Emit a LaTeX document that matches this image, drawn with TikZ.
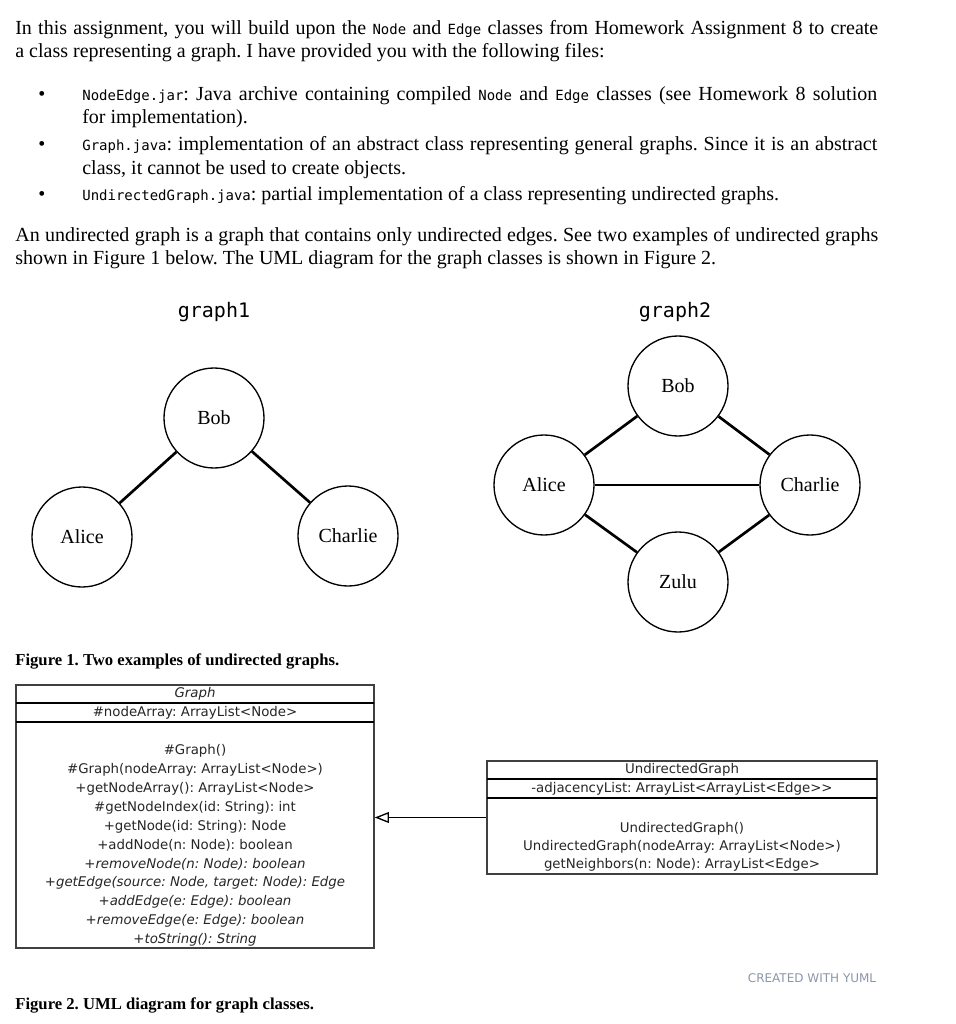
\documentclass[tikz,border=0pt]{standalone}
\usepackage{fontspec}
\setmainfont{Liberation Serif}
\newfontfamily\codefont[Scale=0.7]{DejaVu Sans Mono}
\newfontfamily\labelfont{DejaVu Sans Mono}
\newfontfamily\umlfont{DejaVu Sans}
\usepackage{tikz}
\usetikzlibrary{arrows.meta}
\tikzset{>=latex}
\definecolor{yumlgray}{HTML}{8A96A8}
\newcommand{\jcode}[1]{{\codefont #1}}
\frenchspacing

\begin{document}
\begin{tikzpicture}[x=0.6pt,y=-0.6pt,
    line/.style={anchor=west,inner sep=0pt,font=\fontsize{12}{14}\selectfont},
    caption/.style={anchor=west,inner sep=0pt,font=\bfseries\fontsize{10}{12}\selectfont},
    vertex/.style={circle,draw,line width=0.8pt,minimum size=60pt,inner sep=0pt,font=\fontsize{12}{14}\selectfont},
    link/.style={line width=1.6pt},
    classbox/.style={draw=black!75,line width=0.9pt,inner sep=0pt},
    divider/.style={line width=1.2pt},
    uml/.style={inner sep=0pt,font=\umlfont\fontsize{8}{10}\selectfont,text=black!85},
    inherits/.style={-{Triangle[open,length=8.5pt,width=6.5pt]},line width=0.8pt}]
    \useasboundingbox (0,0) rectangle (955,1024);
    % introduction
    \node[line] (p1a) at (15,30) {\makebox[517.8pt][s]{In this assignment, you will build upon the \jcode{Node} and \jcode{Edge} classes from Homework Assignment 8 to create}};
    \node[line] (p1b) at (15,53) {a class representing a graph. I have provided you with the following files:};
    \foreach \y in {96,146,196} {
      \node[line] (dot\y) at (38,\y) {\textbullet};
    }
    \node[line] (b1a) at (82,96) {\makebox[477pt][s]{\jcode{NodeEdge.jar}: Java archive containing compiled \jcode{Node} and \jcode{Edge} classes (see Homework 8 solution}};
    \node[line] (b1b) at (82,119) {for implementation).};
    \node[line] (b2a) at (82,146) {\makebox[477pt][s]{\jcode{Graph.java}: implementation of an abstract class representing general graphs. Since it is an abstract}};
    \node[line] (b2b) at (82,170) {class, it cannot be used to create objects.};
    \node[line] (b3a) at (82,196) {\jcode{UndirectedGraph.java}: partial implementation of a class representing undirected graphs.};
    \node[line] (p2a) at (15,237) {\makebox[517.8pt][s]{An undirected graph is a graph that contains only undirected edges. See two examples of undirected graphs}};
    \node[line] (p2b) at (15,260) {shown in Figure 1 below. The UML diagram for the graph classes is shown in Figure 2.};

    % graph1
    \node[font=\labelfont\fontsize{12}{14}\selectfont] (title1) at (214,312) {graph1};
    \node[vertex] (g1bob) at (214,418) {Bob};
    \node[vertex] (g1alice) at (82,537) {Alice};
    \node[vertex] (g1charlie) at (348,536) {Charlie};
    \draw[link] (g1bob) -- (g1alice);
    \draw[link] (g1bob) -- (g1charlie);

    % graph2
    \node[font=\labelfont\fontsize{12}{14}\selectfont] (title2) at (675,312) {graph2};
    \node[vertex] (g2bob) at (678,386) {Bob};
    \node[vertex] (g2alice) at (544,485) {Alice};
    \node[vertex] (g2charlie) at (810,485) {Charlie};
    \node[vertex] (g2zulu) at (678,582) {Zulu};
    \draw[link] (g2bob) -- (g2alice);
    \draw[link] (g2bob) -- (g2charlie);
    \draw[link] (g2alice) -- (g2charlie);
    \draw[link] (g2alice) -- (g2zulu);
    \draw[link] (g2zulu) -- (g2charlie);

    \node[caption] (cap1) at (15,661) {Figure 1. Two examples of undirected graphs.};

    % UML: Graph
    \node[classbox,minimum width=214.8pt,minimum height=157.8pt] (graph) at (195,816.5) {};
    \draw[divider] (16,703) -- (374,703);
    \draw[divider] (16,722) -- (374,722);
    \node[uml] (gname) at (195,694) {\itshape Graph};
    \node[uml] (gattr) at (195,713) {\#nodeArray: ArrayList<Node>};
    \foreach \txt [count=\i from 0] in {{\#Graph()},{\#Graph(nodeArray: ArrayList<Node>)},
        {+getNodeArray(): ArrayList<Node>},{\#getNodeIndex(id: String): int},
        {+getNode(id: String): Node},{+addNode(n: Node): boolean},
        {\itshape +removeNode(n: Node): boolean},{\itshape +getEdge(source: Node, target: Node): Edge},
        {\itshape +addEdge(e: Edge): boolean},{\itshape +removeEdge(e: Edge): boolean},
        {\itshape +toString(): String}} {
      \node[uml] (gm\i) at (195,751+18.9*\i) {\txt};
    }

    % UML: UndirectedGraph
    \node[classbox,minimum width=234pt,minimum height=67.8pt] (ugraph) at (682,817.5) {};
    \draw[divider] (487,779) -- (877,779);
    \draw[divider] (487,798) -- (877,798);
    \node[uml] (uname) at (682,770) {UndirectedGraph};
    \node[uml] (uattr) at (682,789) {-adjacencyList: ArrayList<ArrayList<Edge>{}>};
    \node[uml] (um0) at (682,829) {UndirectedGraph()};
    \node[uml] (um1) at (682,847) {UndirectedGraph(nodeArray: ArrayList<Node>)};
    \node[uml] (um2) at (682,865) {getNeighbors(n: Node): ArrayList<Edge>};

    \draw[inherits] (ugraph.west) -- (ugraph.west -| graph.east);

    \begin{scope}
      \clip (700,973) rectangle (900,990);
      \node[uml,font=\umlfont\fontsize{7.2}{9}\selectfont,text=yumlgray] (yuml) at (812,978) {CREATED WITH YUML};
    \end{scope}

    \node[caption] (cap2) at (15,1005) {Figure 2. UML diagram for graph classes.};
\end{tikzpicture}
\end{document}
